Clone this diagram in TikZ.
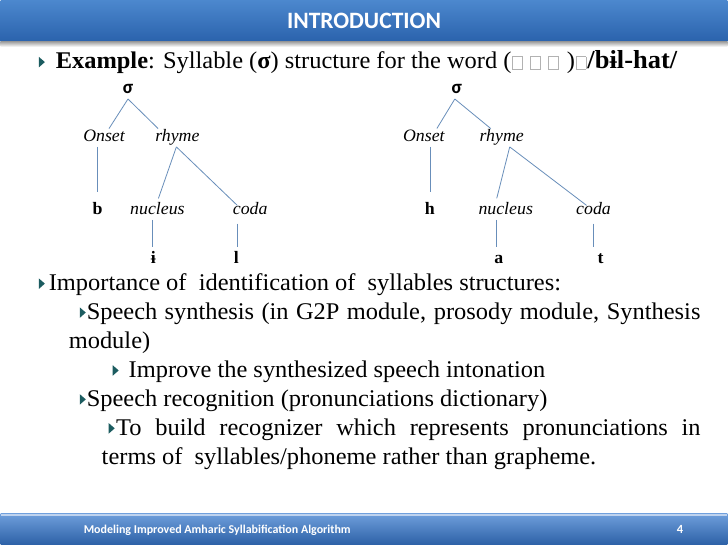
\documentclass[tikz,border=0pt]{standalone}
\usepackage{fontspec}
\setmainfont{Liberation Serif}[FakeStretch=1.02]
\newfontfamily\calibri{Carlito}
\definecolor{bandtop}{RGB}{76,136,206}
\definecolor{bandbot}{RGB}{42,98,172}
\definecolor{foottop}{RGB}{110,158,219}
\definecolor{footbot}{RGB}{44,96,166}
\definecolor{treeblue}{RGB}{104,142,186}
\definecolor{bulteal}{RGB}{28,92,96}
\newcommand\slidebul{\tikz[baseline=0pt,x=1pt,y=1pt]\fill[bulteal] (0,1.5) -- (6,6.8) -- (0,12) -- cycle;}
\newcommand\tofu{{\color{black!30}\setlength\fboxsep{0pt}\setlength\fboxrule{0.5pt}\fbox{\rule{0pt}{12pt}\hspace{9.5pt}}}}
\tikzset{
  txt/.style={anchor=base west, inner sep=0pt, font=\fontsize{24}{29}\selectfont},
  tn/.style={anchor=base, inner sep=1pt, text height=12pt, text depth=4pt, font=\fontsize{17.5}{17.5}\selectfont},
  treeline/.style={draw=treeblue, line width=0.8pt}
}

\begin{document}
\begin{tikzpicture}[x=1pt, y=-1pt]
			%%%%% START %%%%%
			\fill[white] (0,0) rectangle (728,546);

			\shade[top color=bandtop, bottom color=bandbot] (0,0) rectangle (728,42);
			\shade[top color=black!35, bottom color=white] (0,42) rectangle (728,47);
			\node[anchor=base, text=white, font=\calibri\bfseries\fontsize{23.5}{23.5}\selectfont] (title) at (364,29) {INTRODUCTION};

			\node[txt] (ex) at (38,69) {\slidebul\hspace{11pt}\textbf{Example}: Syllable (\textbf{σ}) structure for the word (\hspace{1pt}\tofu\hspace{7.5pt}\tofu\hspace{7.5pt}\tofu\hspace{8pt})\hspace{1pt}\tofu\hspace{1pt}\textbf{\fontsize{26}{29}\selectfont /bɨl-hat/}};

			% left tree
			\node[tn, font=\calibri\bfseries\fontsize{19}{19}\selectfont] (sgL) at (127.5,94) {σ};
			\node[tn, font=\itshape\fontsize{17.5}{17.5}\selectfont] (onL) at (103.5,142) {Onset};
			\node[tn, font=\itshape\fontsize{17.5}{17.5}\selectfont] (rhL) at (177,142) {rhyme};
			\node[tn, font=\bfseries\fontsize{17.5}{17.5}\selectfont] (bL) at (97,215) {b};
			\node[tn, font=\itshape\fontsize{17.5}{17.5}\selectfont] (nuL) at (157,215) {nucleus};
			\node[tn, font=\itshape\fontsize{17.5}{17.5}\selectfont] (coL) at (250,215) {coda};
			\node[tn, font=\bfseries\fontsize{17.5}{17.5}\selectfont] (iL) at (153,264) {ɨ};
			\node[tn, font=\bfseries\fontsize{17.5}{17.5}\selectfont] (lL) at (236,264) {l};

			\draw[treeline] (sgL.south) -- ([xshift=5pt]onL.north);
			\draw[treeline] (sgL.south) -- ([xshift=4pt]rhL.north west);
			\draw[treeline] ([xshift=-6.5pt]onL.south) -- ([yshift=9pt]bL.north);
			\draw[treeline] ([xshift=-1pt]rhL.south) -- ([xshift=1pt,yshift=3pt]nuL.north);
			\draw[treeline] ([xshift=-1pt]rhL.south) -- ([xshift=-13pt,yshift=-4pt]coL.north);
			\draw[treeline] ([xshift=-5pt]nuL.south) -- ([xshift=-1pt,yshift=3pt]iL.north);
			\draw[treeline] ([xshift=-13pt,yshift=-4pt]coL.south) -- ([xshift=1pt,yshift=3pt]lL.north);

			% right tree
			\node[tn, font=\calibri\bfseries\fontsize{19}{19}\selectfont] (sgR) at (457,94) {σ};
			\node[tn, font=\itshape\fontsize{17.5}{17.5}\selectfont] (onR) at (424,142) {Onset};
			\node[tn, font=\itshape\fontsize{17.5}{17.5}\selectfont] (rhR) at (502,142) {rhyme};
			\node[tn, font=\bfseries\fontsize{17.5}{17.5}\selectfont] (hR) at (430,215) {h};
			\node[tn, font=\itshape\fontsize{17.5}{17.5}\selectfont] (nuR) at (506,215) {nucleus};
			\node[tn, font=\itshape\fontsize{17.5}{17.5}\selectfont] (coR) at (594,215) {coda};
			\node[tn, font=\bfseries\fontsize{17.5}{17.5}\selectfont] (aR) at (499,264) {a};
			\node[tn, font=\bfseries\fontsize{17.5}{17.5}\selectfont] (tR) at (601,264) {t};

			\draw[treeline] ([xshift=-2pt]sgR.south) -- ([xshift=13pt]onR.north);
			\draw[treeline] ([xshift=-2pt]sgR.south) -- ([xshift=-11pt]rhR.north);
			\draw[treeline] ([xshift=7pt]onR.south) -- ([xshift=1pt,yshift=9pt]hR.north);
			\draw[treeline] ([xshift=8pt]rhR.south) -- ([xshift=-9pt,yshift=3pt]nuR.north);
			\draw[treeline] ([xshift=8pt]rhR.south) -- ([xshift=-7pt,yshift=-4pt]coR.north);
			\draw[treeline] ([xshift=-9pt]nuR.south) -- ([xshift=-2pt,yshift=3pt]aR.north);
			\draw[treeline] ([yshift=-4pt]coR.south) -- ([xshift=-7pt,yshift=3pt]tR.north);

			% bullet text
			\node[txt] (imp) at (38,291) {\slidebul\hspace{4pt}Importance of\ \ identification of\ \ syllables structures:};
			\node[txt] (syn) at (79,320) {\makebox[622pt][s]{\slidebul\hspace{1pt}Speech synthesis (in G2P module, prosody module, Synthesis}};
			\node[txt] (mod) at (68,349) {module)};
			\node[txt] (into) at (112,378) {\slidebul\hspace{10pt}Improve the synthesized speech intonation};
			\node[txt] (rec) at (79,407) {\slidebul\hspace{1pt}Speech recognition (pronunciations dictionary)};
			\node[txt] (bld) at (108,436) {\makebox[593pt][s]{\slidebul\hspace{1.5pt}To build recognizer which represents pronunciations in}};
			\node[txt] (trm) at (101,465) {terms of\ \ syllables/phoneme rather than grapheme.};

			% footer
			\shade[top color=foottop, bottom color=footbot] (0,515) rectangle (728,546);
			\draw[line width=1.5pt, color=white!55!foottop] (0,516) -- (728,516);
			\node[anchor=base west, inner sep=0pt, text=white, font=\calibri\bfseries\fontsize{12}{12}\selectfont] (foot) at (83,535) {Modeling Improved Amharic Syllabification Algorithm};
			\node[anchor=base east, inner sep=0pt, text=white, font=\calibri\bfseries\fontsize{12.5}{12.5}\selectfont] (page) at (684,535) {4};
			%%%%% END %%%%%
\end{tikzpicture}
\end{document}
